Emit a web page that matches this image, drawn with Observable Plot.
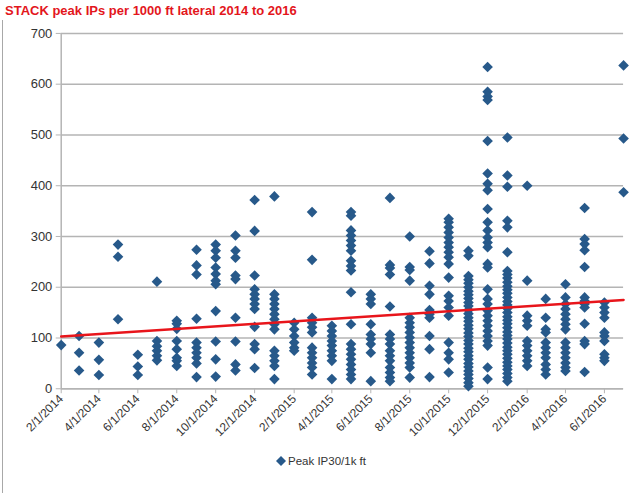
<!DOCTYPE html>
<html>
<head>
<meta charset="utf-8">
<script src="https://cdn.jsdelivr.net/npm/d3@7"></script>
<script src="https://cdn.jsdelivr.net/npm/@observablehq/plot@0.6"></script>
<style>
  html, body { margin: 0; padding: 0; background: #fff; }
  body { width: 638px; height: 493px; overflow: hidden; font-family: "Liberation Sans", Arial, Helvetica, sans-serif; }
  #title { height: 20px; padding-left: 5px; line-height: 22px; color: #e3161c; font-weight: bold; font-size: 13px; }
  #frame { border-left: 1px solid #a8a8a8; margin-left: 2px; height: 473px; position: relative; }
  #chart { position: absolute; left: -3px; top: 0; }
  #legend { position: absolute; top: 435px; left: 0; width: 636px; text-align: center; font-size: 11.5px; color: #333; }
  #legend svg { vertical-align: -1px; margin-right: 2px; }
</style>
</head>
<body>
<div id="title">STACK peak IPs per 1000 ft lateral 2014 to 2016</div>
<div id="frame">
  <div id="chart"></div>
  <div id="legend"><svg width="10" height="10"><path d="M5,0L10,5L5,10L0,5Z" fill="#27598a"></path></svg>Peak IP30/1k ft</div>
</div>
<script>
// Months (first of month) at which wells are plotted
const months = [
  "2014-02-01","2014-03-01","2014-04-01","2014-05-01","2014-06-01","2014-07-01",
  "2014-08-01","2014-09-01","2014-10-01","2014-11-01","2014-12-01",
  "2015-01-01","2015-02-01","2015-03-01","2015-04-01","2015-05-01","2015-06-01",
  "2015-07-01","2015-08-01","2015-09-01","2015-10-01","2015-11-01","2015-12-01",
  "2016-01-01","2016-02-01","2016-03-01","2016-04-01","2016-05-01","2016-06-01","2016-07-01"
];

// Peak IP30 per 1000 ft lateral, one list per month
const peakIP = [
  [86],
  [104, 71, 36],
  [91, 57, 27],
  [284, 260, 137],
  [67, 44, 27],
  [211, 94, 84, 75, 65, 56],
  [134, 128, 118, 94, 78, 61, 55, 45],
  [274, 243, 225, 138, 91, 81, 71, 61, 50, 23],
  [284, 272, 258, 239, 226, 213, 206, 153, 93, 58, 24],
  [302, 272, 258, 223, 216, 140, 93, 48, 36],
  [372, 311, 223, 196, 186, 177, 167, 157, 122, 88, 78, 41],
  [379, 186, 177, 167, 157, 147, 137, 127, 117, 75, 65, 55, 45, 19],
  [130, 117, 104, 91, 81, 75],
  [348, 254, 140, 130, 121, 111, 81, 71, 61, 51, 42, 28],
  [124, 114, 104, 94, 85, 75, 65, 55, 19],
  [348, 341, 312, 302, 292, 282, 272, 252, 242, 233, 190, 127, 88, 78, 68, 58, 48, 38, 28, 19],
  [186, 177, 167, 127, 107, 98, 88, 71, 15],
  [376, 244, 238, 225, 162, 107, 98, 88, 75, 65, 55, 42, 32, 22, 15],
  [300, 240, 234, 213, 140, 130, 121, 111, 101, 91, 81, 71, 61, 51, 42, 22],
  [271, 247, 203, 186, 155, 147, 140, 104, 78, 23],
  [335, 328, 318, 308, 298, 288, 279, 269, 259, 246, 219, 183, 173, 160, 144, 91, 71, 58, 32],
  [272, 262, 222, 215, 208, 200, 192, 185, 178, 170, 163, 155, 148, 140, 133, 125, 118, 110, 103, 95, 88, 80, 73, 65, 58, 50, 43, 35, 28, 20, 12, 5],
  [634, 585, 576, 569, 488, 424, 404, 391, 354, 328, 312, 298, 288, 279, 246, 239, 196, 177, 167, 154, 144, 134, 124, 114, 104, 94, 85, 42, 19],
  [495, 420, 398, 331, 318, 269, 232, 225, 218, 210, 202, 195, 188, 180, 172, 165, 158, 150, 142, 135, 128, 120, 112, 105, 98, 90, 82, 75, 68, 60, 52, 45, 38, 30, 22, 15],
  [400, 213, 144, 134, 124, 94, 85, 75, 65, 55, 45],
  [177, 140, 117, 111, 91, 81, 71, 61, 48, 38, 28],
  [206, 180, 167, 157, 147, 137, 127, 117, 91, 81, 71, 61, 51, 42, 35],
  [356, 295, 285, 273, 240, 180, 173, 167, 160, 128, 94, 88, 33],
  [170, 160, 150, 140, 111, 104, 94, 68, 61, 55],
  [637, 493, 387]
];

// Linear trend line end points
const trendDates = ["2014-02-01", "2016-07-01"];
const trendValues = [103, 175];

// Axis ticks
const xTickDates = ["2014-02-01","2014-04-01","2014-06-01","2014-08-01","2014-10-01","2014-12-01",
  "2015-02-01","2015-04-01","2015-06-01","2015-08-01","2015-10-01","2015-12-01",
  "2016-02-01","2016-04-01","2016-06-01"];
const yTicks = [0, 100, 200, 300, 400, 500, 600, 700];

const parse = d3.utcParse("%Y-%m-%d");
const fmt = d3.utcFormat("%-m/%-d/%Y");

const points = months.flatMap((m, i) => peakIP[i].map(v => ({date: parse(m), value: v})));
const trend = trendDates.map((d, i) => ({date: parse(d), value: trendValues[i]}));
const xTicks = xTickDates.map(parse);

const chart = Plot.plot({
  width: 641,
  height: 427,
  marginTop: 13,
  marginLeft: 61,
  marginRight: 15,
  marginBottom: 57,
  style: {fontFamily: '"Liberation Sans", Arial, Helvetica, sans-serif', background: "transparent", overflow: "visible"},
  x: {type: "utc", domain: [parse("2014-02-01"), parse("2016-07-01")], label: null},
  y: {domain: [0, 700], label: null},
  marks: [
    Plot.gridY(yTicks, {stroke: "#b4b4b4", strokeOpacity: 1, strokeWidth: 1.5}),
    Plot.ruleX([parse("2014-02-01")], {stroke: "#b4b4b4", strokeWidth: 1.5}),
    Plot.ruleY([0], {stroke: "#b4b4b4", strokeWidth: 1.5}),
    Plot.axisY(yTicks, {tickSize: 5, tickPadding: 4, stroke: "#b4b4b4", fill: "#333", fontSize: 13, tickFormat: d => d, label: null}),
    Plot.axisX(xTicks, {tickSize: 5, tickPadding: 3, tickRotate: -45, stroke: "#b4b4b4", fill: "#333", fontSize: 12, tickFormat: fmt, label: null}),
    Plot.dot(points, {x: "date", y: "value", symbol: "diamond2", r: 4.8, fill: "#27598a", stroke: null}),
    Plot.line(trend, {x: "date", y: "value", stroke: "#e8151b", strokeWidth: 2.5})
  ]
});
document.getElementById("chart").appendChild(chart);
</script>
</body>
</html>
